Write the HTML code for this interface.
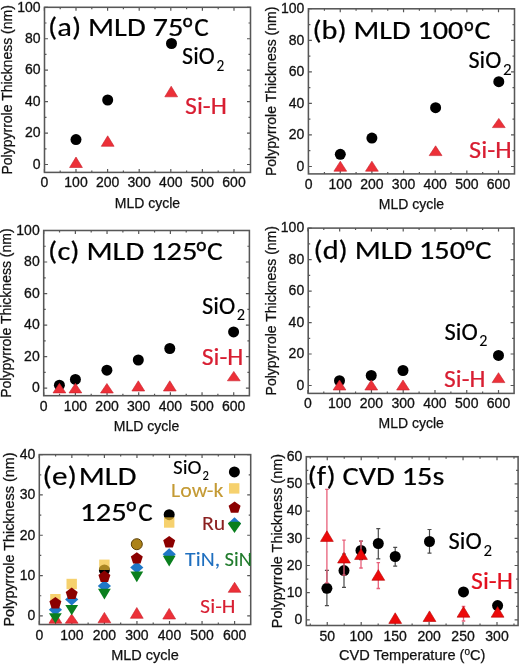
<!DOCTYPE html>
<html><head><meta charset="utf-8"><title>Polypyrrole thickness</title>
<style>html,body{margin:0;padding:0;background:#fff;}body{width:520px;height:665px;overflow:hidden;}svg{display:block;}</style>
</head><body>
<svg width="520" height="665" viewBox="0 0 520 665"><rect width="520" height="665" fill="#fff"/><path d="M44.40 172.40v-3.5M44.40 7.30v3.5M76.00 172.40v-3.5M76.00 7.30v3.5M107.60 172.40v-3.5M107.60 7.30v3.5M139.20 172.40v-3.5M139.20 7.30v3.5M170.80 172.40v-3.5M170.80 7.30v3.5M202.40 172.40v-3.5M202.40 7.30v3.5M234.00 172.40v-3.5M234.00 7.30v3.5M60.20 172.40v-2M60.20 7.30v2M91.80 172.40v-2M91.80 7.30v2M123.40 172.40v-2M123.40 7.30v2M155.00 172.40v-2M155.00 7.30v2M186.60 172.40v-2M186.60 7.30v2M218.20 172.40v-2M218.20 7.30v2M44.50 164.50h3.5M250.50 164.50h-3.5M44.50 133.06h3.5M250.50 133.06h-3.5M44.50 101.62h3.5M250.50 101.62h-3.5M44.50 70.18h3.5M250.50 70.18h-3.5M44.50 38.74h3.5M250.50 38.74h-3.5M44.50 7.30h3.5M250.50 7.30h-3.5M44.50 148.78h2M250.50 148.78h-2M44.50 117.34h2M250.50 117.34h-2M44.50 85.90h2M250.50 85.90h-2M44.50 54.46h2M250.50 54.46h-2M44.50 23.02h2M250.50 23.02h-2" stroke="#575757" stroke-width="1.2" fill="none"/><rect x="44.50" y="7.30" width="206.00" height="165.10" stroke="#575757" stroke-width="1.55" fill="none"/><g font-family="'Liberation Sans', Arial, sans-serif" font-size="14" fill="#111" stroke="#111" stroke-width="0.3"><text x="44.40" y="187.40" text-anchor="middle">0</text><text x="76.00" y="187.40" text-anchor="middle">100</text><text x="107.60" y="187.40" text-anchor="middle">200</text><text x="139.20" y="187.40" text-anchor="middle">300</text><text x="170.80" y="187.40" text-anchor="middle">400</text><text x="202.40" y="187.40" text-anchor="middle">500</text><text x="234.00" y="187.40" text-anchor="middle">600</text><text x="40.50" y="168.80" text-anchor="end">0</text><text x="40.50" y="137.36" text-anchor="end">20</text><text x="40.50" y="105.92" text-anchor="end">40</text><text x="40.50" y="74.48" text-anchor="end">60</text><text x="40.50" y="43.04" text-anchor="end">80</text><text x="40.50" y="11.60" text-anchor="end">100</text></g><text x="147.50" y="207.60" text-anchor="middle" font-family="'Liberation Sans', Arial, sans-serif" font-size="14" fill="#111" stroke="#111" stroke-width="0.25">MLD cycle</text><text transform="translate(12.10,89.85) rotate(-90)" x="0" y="0" text-anchor="middle" font-family="'Liberation Sans', Arial, sans-serif" font-size="14" fill="#111" stroke="#111" stroke-width="0.25">Polypyrrole Thickness (nm)</text><path d="M308.60 173.90v-3.5M308.60 8.80v3.5M340.25 173.90v-3.5M340.25 8.80v3.5M371.90 173.90v-3.5M371.90 8.80v3.5M403.55 173.90v-3.5M403.55 8.80v3.5M435.20 173.90v-3.5M435.20 8.80v3.5M466.85 173.90v-3.5M466.85 8.80v3.5M498.50 173.90v-3.5M498.50 8.80v3.5M324.43 173.90v-2M324.43 8.80v2M356.08 173.90v-2M356.08 8.80v2M387.73 173.90v-2M387.73 8.80v2M419.38 173.90v-2M419.38 8.80v2M451.03 173.90v-2M451.03 8.80v2M482.68 173.90v-2M482.68 8.80v2M308.40 166.50h3.5M514.50 166.50h-3.5M308.40 134.95h3.5M514.50 134.95h-3.5M308.40 103.40h3.5M514.50 103.40h-3.5M308.40 71.85h3.5M514.50 71.85h-3.5M308.40 40.30h3.5M514.50 40.30h-3.5M308.40 8.75h3.5M514.50 8.75h-3.5M308.40 150.72h2M514.50 150.72h-2M308.40 119.18h2M514.50 119.18h-2M308.40 87.62h2M514.50 87.62h-2M308.40 56.08h2M514.50 56.08h-2M308.40 24.53h2M514.50 24.53h-2" stroke="#575757" stroke-width="1.2" fill="none"/><rect x="308.40" y="8.80" width="206.10" height="165.10" stroke="#575757" stroke-width="1.55" fill="none"/><g font-family="'Liberation Sans', Arial, sans-serif" font-size="14" fill="#111" stroke="#111" stroke-width="0.3"><text x="308.60" y="188.90" text-anchor="middle">0</text><text x="340.25" y="188.90" text-anchor="middle">100</text><text x="371.90" y="188.90" text-anchor="middle">200</text><text x="403.55" y="188.90" text-anchor="middle">300</text><text x="435.20" y="188.90" text-anchor="middle">400</text><text x="466.85" y="188.90" text-anchor="middle">500</text><text x="498.50" y="188.90" text-anchor="middle">600</text><text x="304.40" y="170.80" text-anchor="end">0</text><text x="304.40" y="139.25" text-anchor="end">20</text><text x="304.40" y="107.70" text-anchor="end">40</text><text x="304.40" y="76.15" text-anchor="end">60</text><text x="304.40" y="44.60" text-anchor="end">80</text><text x="304.40" y="13.05" text-anchor="end">100</text></g><text x="411.45" y="208.70" text-anchor="middle" font-family="'Liberation Sans', Arial, sans-serif" font-size="14" fill="#111" stroke="#111" stroke-width="0.25">MLD cycle</text><text transform="translate(276.30,91.35) rotate(-90)" x="0" y="0" text-anchor="middle" font-family="'Liberation Sans', Arial, sans-serif" font-size="14" fill="#111" stroke="#111" stroke-width="0.25">Polypyrrole Thickness (nm)</text><path d="M43.70 395.70v-3.5M43.70 230.50v3.5M75.37 395.70v-3.5M75.37 230.50v3.5M107.04 395.70v-3.5M107.04 230.50v3.5M138.71 395.70v-3.5M138.71 230.50v3.5M170.38 395.70v-3.5M170.38 230.50v3.5M202.05 395.70v-3.5M202.05 230.50v3.5M233.72 395.70v-3.5M233.72 230.50v3.5M59.54 395.70v-2M59.54 230.50v2M91.20 395.70v-2M91.20 230.50v2M122.88 395.70v-2M122.88 230.50v2M154.55 395.70v-2M154.55 230.50v2M186.21 395.70v-2M186.21 230.50v2M217.88 395.70v-2M217.88 230.50v2M43.70 388.10h3.5M249.40 388.10h-3.5M43.70 356.58h3.5M249.40 356.58h-3.5M43.70 325.06h3.5M249.40 325.06h-3.5M43.70 293.54h3.5M249.40 293.54h-3.5M43.70 262.02h3.5M249.40 262.02h-3.5M43.70 230.50h3.5M249.40 230.50h-3.5M43.70 372.34h2M249.40 372.34h-2M43.70 340.82h2M249.40 340.82h-2M43.70 309.30h2M249.40 309.30h-2M43.70 277.78h2M249.40 277.78h-2M43.70 246.26h2M249.40 246.26h-2" stroke="#575757" stroke-width="1.2" fill="none"/><rect x="43.70" y="230.50" width="205.70" height="165.20" stroke="#575757" stroke-width="1.55" fill="none"/><g font-family="'Liberation Sans', Arial, sans-serif" font-size="14" fill="#111" stroke="#111" stroke-width="0.3"><text x="43.70" y="410.70" text-anchor="middle">0</text><text x="75.37" y="410.70" text-anchor="middle">100</text><text x="107.04" y="410.70" text-anchor="middle">200</text><text x="138.71" y="410.70" text-anchor="middle">300</text><text x="170.38" y="410.70" text-anchor="middle">400</text><text x="202.05" y="410.70" text-anchor="middle">500</text><text x="233.72" y="410.70" text-anchor="middle">600</text><text x="39.70" y="392.40" text-anchor="end">0</text><text x="39.70" y="360.88" text-anchor="end">20</text><text x="39.70" y="329.36" text-anchor="end">40</text><text x="39.70" y="297.84" text-anchor="end">60</text><text x="39.70" y="266.32" text-anchor="end">80</text><text x="39.70" y="234.80" text-anchor="end">100</text></g><text x="146.55" y="431.00" text-anchor="middle" font-family="'Liberation Sans', Arial, sans-serif" font-size="14" fill="#111" stroke="#111" stroke-width="0.25">MLD cycle</text><text transform="translate(11.00,313.10) rotate(-90)" x="0" y="0" text-anchor="middle" font-family="'Liberation Sans', Arial, sans-serif" font-size="14" fill="#111" stroke="#111" stroke-width="0.25">Polypyrrole Thickness (nm)</text><path d="M307.90 393.40v-3.5M307.90 228.10v3.5M339.67 393.40v-3.5M339.67 228.10v3.5M371.44 393.40v-3.5M371.44 228.10v3.5M403.21 393.40v-3.5M403.21 228.10v3.5M434.98 393.40v-3.5M434.98 228.10v3.5M466.75 393.40v-3.5M466.75 228.10v3.5M498.52 393.40v-3.5M498.52 228.10v3.5M323.78 393.40v-2M323.78 228.10v2M355.55 393.40v-2M355.55 228.10v2M387.32 393.40v-2M387.32 228.10v2M419.09 393.40v-2M419.09 228.10v2M450.87 393.40v-2M450.87 228.10v2M482.63 393.40v-2M482.63 228.10v2M308.20 385.50h3.5M514.10 385.50h-3.5M308.20 354.02h3.5M514.10 354.02h-3.5M308.20 322.54h3.5M514.10 322.54h-3.5M308.20 291.06h3.5M514.10 291.06h-3.5M308.20 259.58h3.5M514.10 259.58h-3.5M308.20 228.10h3.5M514.10 228.10h-3.5M308.20 369.76h2M514.10 369.76h-2M308.20 338.28h2M514.10 338.28h-2M308.20 306.80h2M514.10 306.80h-2M308.20 275.32h2M514.10 275.32h-2M308.20 243.84h2M514.10 243.84h-2" stroke="#575757" stroke-width="1.2" fill="none"/><rect x="308.20" y="228.10" width="205.90" height="165.30" stroke="#575757" stroke-width="1.55" fill="none"/><g font-family="'Liberation Sans', Arial, sans-serif" font-size="14" fill="#111" stroke="#111" stroke-width="0.3"><text x="307.90" y="408.40" text-anchor="middle">0</text><text x="339.67" y="408.40" text-anchor="middle">100</text><text x="371.44" y="408.40" text-anchor="middle">200</text><text x="403.21" y="408.40" text-anchor="middle">300</text><text x="434.98" y="408.40" text-anchor="middle">400</text><text x="466.75" y="408.40" text-anchor="middle">500</text><text x="498.52" y="408.40" text-anchor="middle">600</text><text x="304.20" y="389.80" text-anchor="end">0</text><text x="304.20" y="358.32" text-anchor="end">20</text><text x="304.20" y="326.84" text-anchor="end">40</text><text x="304.20" y="295.36" text-anchor="end">60</text><text x="304.20" y="263.88" text-anchor="end">80</text><text x="304.20" y="232.40" text-anchor="end">100</text></g><text x="411.15" y="428.10" text-anchor="middle" font-family="'Liberation Sans', Arial, sans-serif" font-size="14" fill="#111" stroke="#111" stroke-width="0.25">MLD cycle</text><text transform="translate(275.80,310.75) rotate(-90)" x="0" y="0" text-anchor="middle" font-family="'Liberation Sans', Arial, sans-serif" font-size="14" fill="#111" stroke="#111" stroke-width="0.25">Polypyrrole Thickness (nm)</text><path d="M39.30 624.50v-3.5M39.30 454.60v3.5M71.85 624.50v-3.5M71.85 454.60v3.5M104.40 624.50v-3.5M104.40 454.60v3.5M136.95 624.50v-3.5M136.95 454.60v3.5M169.50 624.50v-3.5M169.50 454.60v3.5M202.05 624.50v-3.5M202.05 454.60v3.5M234.60 624.50v-3.5M234.60 454.60v3.5M55.58 624.50v-2M55.58 454.60v2M88.12 624.50v-2M88.12 454.60v2M120.67 624.50v-2M120.67 454.60v2M153.22 624.50v-2M153.22 454.60v2M185.77 624.50v-2M185.77 454.60v2M218.32 624.50v-2M218.32 454.60v2M39.30 615.90h3.5M250.70 615.90h-3.5M39.30 575.58h3.5M250.70 575.58h-3.5M39.30 535.26h3.5M250.70 535.26h-3.5M39.30 494.94h3.5M250.70 494.94h-3.5M39.30 454.62h3.5M250.70 454.62h-3.5M39.30 595.74h2M250.70 595.74h-2M39.30 555.42h2M250.70 555.42h-2M39.30 515.10h2M250.70 515.10h-2M39.30 474.78h2M250.70 474.78h-2" stroke="#575757" stroke-width="1.2" fill="none"/><rect x="39.30" y="454.60" width="211.40" height="169.90" stroke="#575757" stroke-width="1.55" fill="none"/><g font-family="'Liberation Sans', Arial, sans-serif" font-size="14" fill="#111" stroke="#111" stroke-width="0.3"><text x="39.30" y="639.50" text-anchor="middle">0</text><text x="71.85" y="639.50" text-anchor="middle">100</text><text x="104.40" y="639.50" text-anchor="middle">200</text><text x="136.95" y="639.50" text-anchor="middle">300</text><text x="169.50" y="639.50" text-anchor="middle">400</text><text x="202.05" y="639.50" text-anchor="middle">500</text><text x="234.60" y="639.50" text-anchor="middle">600</text><text x="35.30" y="620.20" text-anchor="end">0</text><text x="35.30" y="579.88" text-anchor="end">10</text><text x="35.30" y="539.56" text-anchor="end">20</text><text x="35.30" y="499.24" text-anchor="end">30</text><text x="35.30" y="458.92" text-anchor="end">40</text></g><text x="145.00" y="660.20" text-anchor="middle" font-family="'Liberation Sans', Arial, sans-serif" font-size="14.5" fill="#111" stroke="#111" stroke-width="0.25">MLD cycle</text><text transform="translate(14.30,539.55) rotate(-90)" x="0" y="0" text-anchor="middle" font-family="'Liberation Sans', Arial, sans-serif" font-size="14.4" fill="#111" stroke="#111" stroke-width="0.25">Polypyrrole Thickness (nm)</text><path d="M327.25 625.50v-3.5M327.25 456.70v3.5M361.20 625.50v-3.5M361.20 456.70v3.5M395.15 625.50v-3.5M395.15 456.70v3.5M429.10 625.50v-3.5M429.10 456.70v3.5M463.05 625.50v-3.5M463.05 456.70v3.5M497.00 625.50v-3.5M497.00 456.70v3.5M310.28 625.50v-2M310.28 456.70v2M344.23 625.50v-2M344.23 456.70v2M378.18 625.50v-2M378.18 456.70v2M412.12 625.50v-2M412.12 456.70v2M446.08 625.50v-2M446.08 456.70v2M480.03 625.50v-2M480.03 456.70v2M513.98 625.50v-2M513.98 456.70v2M306.30 619.90h3.5M518.10 619.90h-3.5M306.30 592.70h3.5M518.10 592.70h-3.5M306.30 565.50h3.5M518.10 565.50h-3.5M306.30 538.30h3.5M518.10 538.30h-3.5M306.30 511.10h3.5M518.10 511.10h-3.5M306.30 483.90h3.5M518.10 483.90h-3.5M306.30 456.70h3.5M518.10 456.70h-3.5M306.30 606.30h2M518.10 606.30h-2M306.30 579.10h2M518.10 579.10h-2M306.30 551.90h2M518.10 551.90h-2M306.30 524.70h2M518.10 524.70h-2M306.30 497.50h2M518.10 497.50h-2M306.30 470.30h2M518.10 470.30h-2" stroke="#575757" stroke-width="1.2" fill="none"/><rect x="306.30" y="456.70" width="211.80" height="168.80" stroke="#575757" stroke-width="1.55" fill="none"/><g font-family="'Liberation Sans', Arial, sans-serif" font-size="14" fill="#111" stroke="#111" stroke-width="0.3"><text x="327.25" y="640.50" text-anchor="middle">50</text><text x="361.20" y="640.50" text-anchor="middle">100</text><text x="395.15" y="640.50" text-anchor="middle">150</text><text x="429.10" y="640.50" text-anchor="middle">200</text><text x="463.05" y="640.50" text-anchor="middle">250</text><text x="497.00" y="640.50" text-anchor="middle">300</text><text x="302.30" y="624.20" text-anchor="end">0</text><text x="302.30" y="597.00" text-anchor="end">10</text><text x="302.30" y="569.80" text-anchor="end">20</text><text x="302.30" y="542.60" text-anchor="end">30</text><text x="302.30" y="515.40" text-anchor="end">40</text><text x="302.30" y="488.20" text-anchor="end">50</text><text x="302.30" y="461.00" text-anchor="end">60</text></g><text x="412.20" y="659.70" text-anchor="middle" font-family="'Liberation Sans', Arial, sans-serif" font-size="14.6" fill="#111" stroke="#111" stroke-width="0.25">CVD Temperature (<tspan font-size="10" dy="-5">o</tspan><tspan dy="5">C)</tspan></text><text transform="translate(281.50,541.10) rotate(-90)" x="0" y="0" text-anchor="middle" font-family="'Liberation Sans', Arial, sans-serif" font-size="14.4" fill="#111" stroke="#111" stroke-width="0.25">Polypyrrole Thickness (nm)</text><circle cx="76.00" cy="139.60" r="5.5" fill="#000" /><circle cx="107.70" cy="100.00" r="5.5" fill="#000" /><circle cx="171.50" cy="43.50" r="5.5" fill="#000" /><path d="M76.00 157.00L82.40 167.50L69.60 167.50Z" fill="#EC3038" stroke="#C8202C" stroke-width="0.6"/><path d="M107.70 135.80L114.10 146.30L101.30 146.30Z" fill="#EC3038" stroke="#C8202C" stroke-width="0.6"/><path d="M171.20 86.20L177.60 96.80L164.80 96.80Z" fill="#EC3038" stroke="#C8202C" stroke-width="0.6"/><circle cx="340.30" cy="154.30" r="5.5" fill="#000" /><circle cx="371.90" cy="138.10" r="5.5" fill="#000" /><circle cx="435.60" cy="107.70" r="5.5" fill="#000" /><circle cx="498.80" cy="81.70" r="5.5" fill="#000" /><path d="M340.30 161.20L346.70 171.20L333.90 171.20Z" fill="#EC3038" stroke="#C8202C" stroke-width="0.6"/><path d="M371.90 161.20L378.30 171.20L365.50 171.20Z" fill="#EC3038" stroke="#C8202C" stroke-width="0.6"/><path d="M435.60 145.80L442.00 155.60L429.20 155.60Z" fill="#EC3038" stroke="#C8202C" stroke-width="0.6"/><path d="M498.80 118.40L505.20 127.60L492.40 127.60Z" fill="#EC3038" stroke="#C8202C" stroke-width="0.6"/><circle cx="59.40" cy="385.20" r="5.5" fill="#000" /><circle cx="75.40" cy="379.40" r="5.5" fill="#000" /><circle cx="106.90" cy="370.20" r="5.5" fill="#000" /><circle cx="138.30" cy="360.00" r="5.5" fill="#000" /><circle cx="169.80" cy="348.50" r="5.5" fill="#000" /><circle cx="233.60" cy="331.90" r="5.5" fill="#000" /><path d="M59.40 383.30L65.80 392.90L53.00 392.90Z" fill="#EC3038" stroke="#C8202C" stroke-width="0.6"/><path d="M75.40 383.30L81.80 392.90L69.00 392.90Z" fill="#EC3038" stroke="#C8202C" stroke-width="0.6"/><path d="M106.90 383.50L113.30 393.00L100.50 393.00Z" fill="#EC3038" stroke="#C8202C" stroke-width="0.6"/><path d="M138.30 380.80L144.70 391.00L131.90 391.00Z" fill="#EC3038" stroke="#C8202C" stroke-width="0.6"/><path d="M169.80 380.80L176.20 391.00L163.40 391.00Z" fill="#EC3038" stroke="#C8202C" stroke-width="0.6"/><path d="M233.80 371.40L240.20 380.80L227.40 380.80Z" fill="#EC3038" stroke="#C8202C" stroke-width="0.6"/><circle cx="339.50" cy="380.75" r="5.5" fill="#000" /><circle cx="371.25" cy="375.50" r="5.5" fill="#000" /><circle cx="403.00" cy="370.50" r="5.5" fill="#000" /><circle cx="498.50" cy="355.40" r="5.5" fill="#000" /><path d="M339.50 380.00L345.90 390.00L333.10 390.00Z" fill="#EC3038" stroke="#C8202C" stroke-width="0.6"/><path d="M371.25 380.00L377.65 390.00L364.85 390.00Z" fill="#EC3038" stroke="#C8202C" stroke-width="0.6"/><path d="M403.00 380.00L409.40 390.00L396.60 390.00Z" fill="#EC3038" stroke="#C8202C" stroke-width="0.6"/><path d="M498.50 372.70L504.90 382.60L492.10 382.60Z" fill="#EC3038" stroke="#C8202C" stroke-width="0.6"/><path d="M55.40 612.60L61.80 623.20L49.00 623.20Z" fill="#EC3038" stroke="#C8202C" stroke-width="0.6"/><path d="M71.70 614.00L78.10 623.20L65.30 623.20Z" fill="#EC3038" stroke="#C8202C" stroke-width="0.6"/><path d="M104.40 612.40L110.80 622.80L98.00 622.80Z" fill="#EC3038" stroke="#C8202C" stroke-width="0.6"/><path d="M136.80 607.50L143.20 618.30L130.40 618.30Z" fill="#EC3038" stroke="#C8202C" stroke-width="0.6"/><path d="M169.20 608.40L175.60 619.00L162.80 619.00Z" fill="#EC3038" stroke="#C8202C" stroke-width="0.6"/><path d="M234.60 582.30L241.00 592.30L228.20 592.30Z" fill="#EC3038" stroke="#C8202C" stroke-width="0.6"/><circle cx="104.40" cy="570.00" r="5.5" fill="#000" /><circle cx="169.20" cy="514.70" r="5.5" fill="#000" /><circle cx="234.40" cy="471.90" r="5.5" fill="#000" /><circle cx="136.80" cy="544.20" r="5.5" fill="#AC8218" stroke="#5a3e06" stroke-width="1"/><rect x="50.20" y="594.00" width="10.4" height="10.4" fill="#F2BE30" fill-opacity="0.7"/><rect x="66.50" y="578.80" width="10.4" height="10.4" fill="#F2BE30" fill-opacity="0.7"/><rect x="99.20" y="559.60" width="10.4" height="10.4" fill="#F2BE30" fill-opacity="0.7"/><rect x="164.00" y="517.30" width="10.4" height="10.4" fill="#F2BE30" fill-opacity="0.7"/><rect x="229.00" y="483.20" width="10.4" height="10.4" fill="#F2BE30" fill-opacity="0.7"/><path d="M55.40 603.80L62.00 609.80L55.40 615.80L48.80 609.80Z" fill="#1F78C8"/><path d="M71.70 593.50L78.30 599.50L71.70 605.50L65.10 599.50Z" fill="#1F78C8"/><path d="M104.40 580.00L111.00 586.00L104.40 592.00L97.80 586.00Z" fill="#1F78C8"/><path d="M136.80 561.50L143.40 567.50L136.80 573.50L130.20 567.50Z" fill="#1F78C8"/><path d="M169.20 548.20L175.80 554.20L169.20 560.20L162.60 554.20Z" fill="#1F78C8"/><path d="M49.00 613.30L61.80 613.30L55.40 623.60Z" fill="#0A7F1E"/><path d="M65.30 605.10L78.10 605.10L71.70 615.20Z" fill="#0A7F1E"/><path d="M98.00 588.70L110.80 588.70L104.40 599.50Z" fill="#0A7F1E"/><path d="M130.40 571.40L143.20 571.40L136.80 582.20Z" fill="#0A7F1E"/><path d="M162.80 555.70L175.60 555.70L169.20 566.50Z" fill="#0A7F1E"/><path d="M234.50 517.30L241.10 523.50L234.50 529.70L227.90 523.50Z" fill="#1F78C8"/><path d="M229.70 521.80L239.30 521.80L241.10 523.50L234.50 532.90L227.90 523.50Z" fill="#0A7F1E"/><polygon points="55.40,597.00 61.39,601.35 59.10,608.40 51.70,608.40 49.41,601.35" fill="#8B0000"/><polygon points="71.70,587.60 77.69,591.95 75.40,599.00 68.00,599.00 65.71,591.95" fill="#8B0000"/><polygon points="104.40,570.60 110.39,574.95 108.10,582.00 100.70,582.00 98.41,574.95" fill="#8B0000"/><polygon points="136.80,552.20 142.79,556.55 140.50,563.60 133.10,563.60 130.81,556.55" fill="#8B0000"/><polygon points="169.20,536.00 175.19,540.35 172.90,547.40 165.50,547.40 163.21,540.35" fill="#8B0000"/><polygon points="234.60,501.40 240.59,505.75 238.30,512.80 230.90,512.80 228.61,505.75" fill="#8B0000"/><path d="M326.90 570.40V605.60M324.90 570.40h4M324.90 605.60h4" stroke="#4a4a4a" stroke-width="1.2" fill="none"/><path d="M344.00 554.00V587.30M342.00 554.00h4M342.00 587.30h4" stroke="#4a4a4a" stroke-width="1.2" fill="none"/><path d="M361.00 541.20V559.60M359.00 541.20h4M359.00 559.60h4" stroke="#4a4a4a" stroke-width="1.2" fill="none"/><path d="M378.30 528.60V558.80M376.30 528.60h4M376.30 558.80h4" stroke="#4a4a4a" stroke-width="1.2" fill="none"/><path d="M395.20 547.30V566.20M393.20 547.30h4M393.20 566.20h4" stroke="#4a4a4a" stroke-width="1.2" fill="none"/><path d="M429.50 529.50V553.10M427.50 529.50h4M427.50 553.10h4" stroke="#4a4a4a" stroke-width="1.2" fill="none"/><circle cx="326.90" cy="588.30" r="5.5" fill="#000" /><circle cx="344.00" cy="570.60" r="5.5" fill="#000" /><circle cx="361.00" cy="550.40" r="5.5" fill="#000" /><circle cx="378.30" cy="543.50" r="5.5" fill="#000" /><circle cx="395.20" cy="556.50" r="5.5" fill="#000" /><circle cx="429.50" cy="541.50" r="5.5" fill="#000" /><circle cx="463.50" cy="591.90" r="5.5" fill="#000" /><circle cx="497.60" cy="605.60" r="5.5" fill="#000" /><path d="M326.90 489.40V582.80M325.15 489.40h3.5M325.15 582.80h3.5" stroke="#E8607A" stroke-width="1.3" fill="none"/><path d="M344.00 540.20V575.20M342.25 540.20h3.5M342.25 575.20h3.5" stroke="#E8607A" stroke-width="1.3" fill="none"/><path d="M361.00 541.20V568.00M359.25 541.20h3.5M359.25 568.00h3.5" stroke="#E8607A" stroke-width="1.3" fill="none"/><path d="M378.30 562.70V588.50M376.55 562.70h3.5M376.55 588.50h3.5" stroke="#E8607A" stroke-width="1.3" fill="none"/><path d="M463.50 606.50V621.00M461.75 606.50h3.5M461.75 621.00h3.5" stroke="#E8607A" stroke-width="1.3" fill="none"/><path d="M326.90 530.80L333.30 541.40L320.50 541.40Z" fill="#EC0A0A" stroke="#B80000" stroke-width="0.6"/><path d="M344.00 552.40L350.40 563.00L337.60 563.00Z" fill="#EC0A0A" stroke="#B80000" stroke-width="0.6"/><path d="M361.00 548.80L367.40 559.40L354.60 559.40Z" fill="#EC0A0A" stroke="#B80000" stroke-width="0.6"/><path d="M378.30 569.70L384.70 580.30L371.90 580.30Z" fill="#EC0A0A" stroke="#B80000" stroke-width="0.6"/><path d="M395.20 612.80L401.60 623.40L388.80 623.40Z" fill="#EC0A0A" stroke="#B80000" stroke-width="0.6"/><path d="M429.50 610.90L435.90 621.50L423.10 621.50Z" fill="#EC0A0A" stroke="#B80000" stroke-width="0.6"/><path d="M463.50 606.60L469.90 617.20L457.10 617.20Z" fill="#EC0A0A" stroke="#B80000" stroke-width="0.6"/><path d="M497.60 606.60L504.00 617.20L491.20 617.20Z" fill="#EC0A0A" stroke="#B80000" stroke-width="0.6"/><text x="48.04" y="35.60" font-family="Carlito, 'Liberation Sans', sans-serif" font-size="27" fill="#000" stroke="#000" stroke-width="0.22" textLength="135.42" lengthAdjust="spacingAndGlyphs">(a) MLD 75</text><text x="182.85" y="26.75" font-family="Carlito, 'Liberation Sans', sans-serif" font-size="18" fill="#000" stroke="#000" stroke-width="0.5" textLength="9.89" lengthAdjust="spacingAndGlyphs">o</text><text x="194.32" y="35.60" font-family="Carlito, 'Liberation Sans', sans-serif" font-size="27" fill="#000" stroke="#000" stroke-width="0.22" textLength="14.51" lengthAdjust="spacingAndGlyphs">C</text><text x="312.46" y="39.10" font-family="Carlito, 'Liberation Sans', sans-serif" font-size="27" fill="#000" stroke="#000" stroke-width="0.22" textLength="150.97" lengthAdjust="spacingAndGlyphs">(b) MLD 100</text><text x="464.19" y="31.15" font-family="Carlito, 'Liberation Sans', sans-serif" font-size="18" fill="#000" stroke="#000" stroke-width="0.5" textLength="9.32" lengthAdjust="spacingAndGlyphs">o</text><text x="474.43" y="39.10" font-family="Carlito, 'Liberation Sans', sans-serif" font-size="27" fill="#000" stroke="#000" stroke-width="0.22" textLength="15.95" lengthAdjust="spacingAndGlyphs">C</text><text x="48.14" y="259.60" font-family="Carlito, 'Liberation Sans', sans-serif" font-size="27" fill="#000" stroke="#000" stroke-width="0.22" textLength="149.37" lengthAdjust="spacingAndGlyphs">(c) MLD 125</text><text x="196.33" y="250.65" font-family="Carlito, 'Liberation Sans', sans-serif" font-size="18" fill="#000" stroke="#000" stroke-width="0.5" textLength="10.13" lengthAdjust="spacingAndGlyphs">o</text><text x="206.94" y="259.60" font-family="Carlito, 'Liberation Sans', sans-serif" font-size="27" fill="#000" stroke="#000" stroke-width="0.22" textLength="15.73" lengthAdjust="spacingAndGlyphs">C</text><text x="313.45" y="258.70" font-family="Carlito, 'Liberation Sans', sans-serif" font-size="27" fill="#000" stroke="#000" stroke-width="0.22" textLength="151.69" lengthAdjust="spacingAndGlyphs">(d) MLD 150</text><text x="464.96" y="249.75" font-family="Carlito, 'Liberation Sans', sans-serif" font-size="18" fill="#000" stroke="#000" stroke-width="0.5" textLength="9.78" lengthAdjust="spacingAndGlyphs">o</text><text x="475.21" y="258.70" font-family="Carlito, 'Liberation Sans', sans-serif" font-size="27" fill="#000" stroke="#000" stroke-width="0.22" textLength="16.28" lengthAdjust="spacingAndGlyphs">C</text><text x="42.60" y="484.60" font-family="Carlito, 'Liberation Sans', sans-serif" font-size="27" fill="#000" stroke="#000" stroke-width="0.22" textLength="34.33" lengthAdjust="spacingAndGlyphs">(e)</text><text x="78.87" y="484.60" font-family="Carlito, 'Liberation Sans', sans-serif" font-size="27" fill="#000" stroke="#000" stroke-width="0.22" textLength="57.47" lengthAdjust="spacingAndGlyphs">MLD</text><text x="80.11" y="520.90" font-family="Carlito, 'Liberation Sans', sans-serif" font-size="27" fill="#000" stroke="#000" stroke-width="0.22" textLength="46.56" lengthAdjust="spacingAndGlyphs">125</text><text x="126.33" y="511.15" font-family="Carlito, 'Liberation Sans', sans-serif" font-size="18" fill="#000" stroke="#000" stroke-width="0.5" textLength="10.13" lengthAdjust="spacingAndGlyphs">o</text><text x="138.22" y="520.90" font-family="Carlito, 'Liberation Sans', sans-serif" font-size="27" fill="#000" stroke="#000" stroke-width="0.22" textLength="14.40" lengthAdjust="spacingAndGlyphs">C</text><text x="307.55" y="485.40" font-family="Carlito, 'Liberation Sans', sans-serif" font-size="27" fill="#000" stroke="#000" stroke-width="0.22" textLength="136.91" lengthAdjust="spacingAndGlyphs">(f) CVD 15s</text><text x="182.09" y="64.20" font-family="Carlito, 'Liberation Sans', sans-serif" font-size="24.5" fill="#000" stroke="#000" stroke-width="0.22" textLength="32.55" lengthAdjust="spacingAndGlyphs">SiO</text><text x="216.60" y="71.20" font-family="Carlito, 'Liberation Sans', sans-serif" font-size="16.5" fill="#000" stroke="#000" stroke-width="0.1" textLength="7.78" lengthAdjust="spacingAndGlyphs">2</text><text x="185.04" y="114.20" font-family="Carlito, 'Liberation Sans', sans-serif" font-size="24.5" fill="#D81E32" stroke="#D81E32" stroke-width="0.22" textLength="41.90" lengthAdjust="spacingAndGlyphs">Si-H</text><text x="468.48" y="68.30" font-family="Carlito, 'Liberation Sans', sans-serif" font-size="24.5" fill="#000" stroke="#000" stroke-width="0.22" textLength="32.76" lengthAdjust="spacingAndGlyphs">SiO</text><text x="502.93" y="74.60" font-family="Carlito, 'Liberation Sans', sans-serif" font-size="16.5" fill="#000" stroke="#000" stroke-width="0.1" textLength="8.64" lengthAdjust="spacingAndGlyphs">2</text><text x="469.13" y="158.30" font-family="Carlito, 'Liberation Sans', sans-serif" font-size="24.5" fill="#D81E32" stroke="#D81E32" stroke-width="0.22" textLength="42.64" lengthAdjust="spacingAndGlyphs">Si-H</text><text x="202.07" y="313.80" font-family="Carlito, 'Liberation Sans', sans-serif" font-size="24.5" fill="#000" stroke="#000" stroke-width="0.22" textLength="33.18" lengthAdjust="spacingAndGlyphs">SiO</text><text x="236.76" y="320.20" font-family="Carlito, 'Liberation Sans', sans-serif" font-size="16.5" fill="#000" stroke="#000" stroke-width="0.1" textLength="8.27" lengthAdjust="spacingAndGlyphs">2</text><text x="201.74" y="364.60" font-family="Carlito, 'Liberation Sans', sans-serif" font-size="24.5" fill="#D81E32" stroke="#D81E32" stroke-width="0.22" textLength="41.69" lengthAdjust="spacingAndGlyphs">Si-H</text><text x="444.47" y="339.80" font-family="Carlito, 'Liberation Sans', sans-serif" font-size="24.5" fill="#000" stroke="#000" stroke-width="0.22" textLength="33.28" lengthAdjust="spacingAndGlyphs">SiO</text><text x="479.37" y="346.00" font-family="Carlito, 'Liberation Sans', sans-serif" font-size="16.5" fill="#000" stroke="#000" stroke-width="0.1" textLength="8.15" lengthAdjust="spacingAndGlyphs">2</text><text x="444.05" y="386.80" font-family="Carlito, 'Liberation Sans', sans-serif" font-size="24.5" fill="#D81E32" stroke="#D81E32" stroke-width="0.22" textLength="41.37" lengthAdjust="spacingAndGlyphs">Si-H</text><text x="448.57" y="549.30" font-family="Carlito, 'Liberation Sans', sans-serif" font-size="24.5" fill="#000" stroke="#000" stroke-width="0.22" textLength="33.18" lengthAdjust="spacingAndGlyphs">SiO</text><text x="483.54" y="556.20" font-family="Carlito, 'Liberation Sans', sans-serif" font-size="16.5" fill="#000" stroke="#000" stroke-width="0.1" textLength="8.51" lengthAdjust="spacingAndGlyphs">2</text><text x="471.04" y="588.80" font-family="Carlito, 'Liberation Sans', sans-serif" font-size="24.5" fill="#E2101E" stroke="#E2101E" stroke-width="0.22" textLength="41.90" lengthAdjust="spacingAndGlyphs">Si-H</text><text x="172.96" y="474.10" font-family="Carlito, 'Liberation Sans', sans-serif" font-size="19.5" fill="#000" stroke="#000" stroke-width="0.1" textLength="28.52" lengthAdjust="spacingAndGlyphs">SiO</text><text x="202.44" y="479.50" font-family="Carlito, 'Liberation Sans', sans-serif" font-size="14" fill="#000" stroke="#000" stroke-width="0.1" textLength="6.40" lengthAdjust="spacingAndGlyphs">2</text><text x="171.04" y="496.50" font-family="Carlito, 'Liberation Sans', sans-serif" font-size="20.5" fill="#C49A34" stroke="#C49A34" stroke-width="0.1" textLength="52.38" lengthAdjust="spacingAndGlyphs">Low-k</text><text x="201.91" y="529.90" font-family="Carlito, 'Liberation Sans', sans-serif" font-size="20.5" fill="#8A1F1F" stroke="#8A1F1F" stroke-width="0.1" textLength="23.28" lengthAdjust="spacingAndGlyphs">Ru</text><text x="185.14" y="566.30" font-family="Carlito, 'Liberation Sans', sans-serif" font-size="20.5" fill="#1F6FBF" stroke="#1F6FBF" stroke-width="0.1" textLength="34.93" lengthAdjust="spacingAndGlyphs">TiN,</text><text x="224.57" y="566.30" font-family="Carlito, 'Liberation Sans', sans-serif" font-size="20.5" fill="#1E7A2A" stroke="#1E7A2A" stroke-width="0.1" textLength="27.52" lengthAdjust="spacingAndGlyphs">SiN</text><text x="200.13" y="612.70" font-family="Carlito, 'Liberation Sans', sans-serif" font-size="20.5" fill="#D81E32" stroke="#D81E32" stroke-width="0.1" textLength="35.38" lengthAdjust="spacingAndGlyphs">Si-H</text></svg>
</body></html>
